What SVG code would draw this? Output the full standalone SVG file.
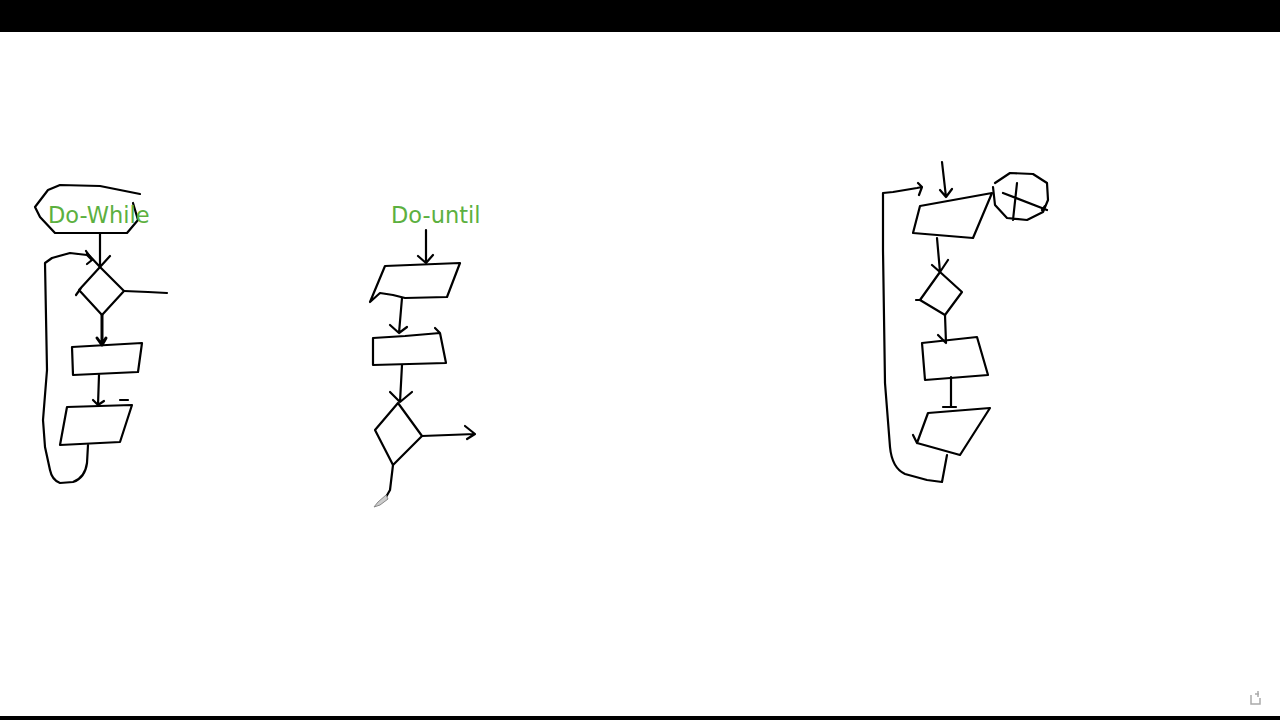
<svg xmlns="http://www.w3.org/2000/svg" width="1280" height="720" viewBox="0 0 1280 720">
<style>
.s{fill:none;stroke:#000;stroke-width:2.2;stroke-linecap:round;stroke-linejoin:round}
.t{font-family:"DejaVu Sans","Liberation Sans",sans-serif;font-size:22.5px;fill:#5cb040}
</style>
<rect width="1280" height="720" fill="#fff"/>
<rect x="0" y="0" width="1280" height="32" fill="#000"/>
<rect x="0" y="716" width="1280" height="4" fill="#000"/>
<g id="connectors">
<path class="s" d="M100,233 L100,267 M87,253 L100,267 L110,256"/>
<path class="s" d="M124,291 L148,292 L167,293"/>
<path class="s" style="stroke-width:3" d="M102,315 L102,345 M97,338 L102,345 L106,338"/>
<path class="s" d="M99,375 L98,405 M93,400 L98,405 L104,401"/>
<path class="s" d="M88,445 L87,463 Q85,478 73,482 L60,483 Q52,480 50,470 L45,447 L43,420 L47,370 L45,263 L52,258 L70,253 L87,255 L92,260 M86,251 L92,260 L87,264"/>
<path class="s" d="M426,230 L426,263 M418,256 L426,263 L433,255"/>
<path class="s" d="M402,298 L399,333 M390,325 L399,333 L407,327"/>
<path class="s" d="M402,365 L400,402 M390,392 L400,402 L412,392"/>
<path class="s" d="M422,436 L475,434 M465,426 L475,434 L467,439"/>
<path class="s" d="M393,465 L390,490 L386,497"/>
<path d="M386,495 L378,502 L374,507 L380,505 L388,499 Z" fill="#ccc" stroke="#888" stroke-width="1"/>
<path class="s" d="M942,162 L946,197 M940,190 L946,197 L952,189"/>
<path class="s" d="M937,238 L940,272 M932,265 L940,272 L948,260"/>
<path class="s" d="M945,315 L946,343 M938,335 L946,343"/>
<path class="s" d="M951,377 L951,407 M943,407 L956,407"/>
<path class="s" d="M947,455 L942,482 L927,480 L905,474 Q892,468 890,447 L885,383 L883,250 L883,193 L893,192 L917,188 L922,187 M918,183 L922,187 L919,195"/>
</g>
<g id="n-dowhile-start">
<path class="s" d="M140,194 L100,186 L60,185 L48,190 L35,207 L40,217 L55,233 L127,233 L138,220 L133,203"/>
<text class="t" x="48" y="223">Do-While</text>
</g>
<g id="n-dowhile-decision"><path class="s" d="M100,267 L124,291 L102,315 L79,290 Z M76,295 L81,288"/></g>
<g id="n-dowhile-process"><path class="s" d="M72,347 L142,343 L138,372 L73,375 Z"/></g>
<g id="n-dowhile-io"><path class="s" d="M67,407 L132,405 L120,442 L60,445 Z M120,400 L128,400"/></g>
<g id="n-dountil-label"><text class="t" x="391" y="223">Do-until</text></g>
<g id="n-dountil-io"><path class="s" d="M385,266 L460,263 L447,297 L405,298 L393,295 L380,293 L370,302 Z"/></g>
<g id="n-dountil-process"><path class="s" d="M373,338 L405,336 L440,333 L446,363 L373,365 Z M435,328 L440,333"/></g>
<g id="n-dountil-decision"><path class="s" d="M398,403 L422,436 L393,465 L375,430 Z"/></g>
<g id="n-loop-io1"><path class="s" d="M920,206 L992,193 L973,238 L913,233 Z"/></g>
<g id="n-loop-connector"><path class="s" d="M995,183 L1010,173 L1033,174 L1047,183 L1048,200 L1043,212 L1027,220 L1007,218 L995,205 L993,187 M1017,183 L1013,220 M1003,193 L1047,210 M1042,210 L1045,206"/></g>
<g id="n-loop-decision"><path class="s" d="M940,272 L962,292 L945,315 L920,300 Z M916,300 L921,300"/></g>
<g id="n-loop-process"><path class="s" d="M922,343 L977,337 L988,375 L925,380 Z"/></g>
<g id="n-loop-io2"><path class="s" d="M928,413 L990,408 L960,455 L917,443 Z M913,435 L917,443"/></g>
<path d="M1251,695 L1251,704 L1260,704 L1260,698 M1255,694 L1259,694 M1258,691 L1258,697" fill="none" stroke="#aaa" stroke-width="1.5"/>
</svg>
